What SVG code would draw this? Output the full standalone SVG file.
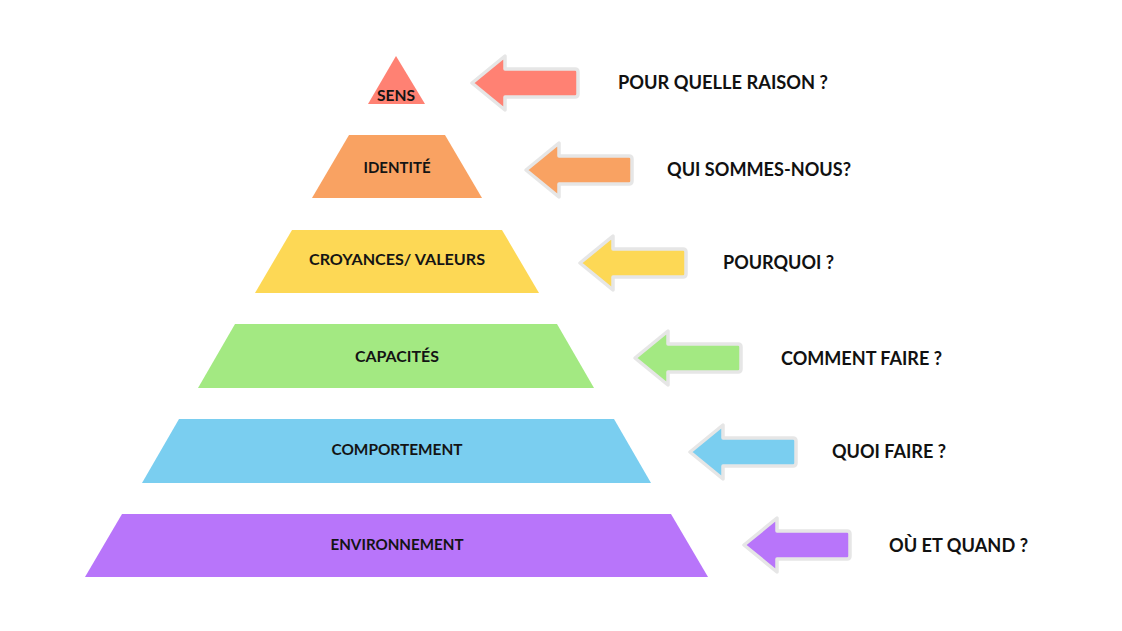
<svg xmlns="http://www.w3.org/2000/svg" width="1122" height="631" viewBox="0 0 1122 631">
<style>
.lvl{font-family:Lato,"Liberation Sans",sans-serif;font-weight:700;font-size:15px;fill:#141414;text-anchor:middle;dominant-baseline:central}
.q{font-family:Lato,"Liberation Sans",sans-serif;font-weight:700;font-size:18px;fill:#111;dominant-baseline:central}
.arr{stroke:#e6e6e6;stroke-width:3.5;stroke-linejoin:round}
</style>
<defs>
<path id="arrow" d="M0,0 L33,-27 L33,-14 L103,-14 Q106,-14 106,-11 L106,11 Q106,14 103,14 L33,14 L33,27 Z"/>
</defs>
<rect width="1122" height="631" fill="#ffffff"/>
<g id="sens">
<polygon points="396,56 425,104 368,104" fill="#ff8173"/>
<text class="lvl" x="396" y="95" textLength="38" lengthAdjust="spacingAndGlyphs">SENS</text>
</g>
<g id="identite">
<polygon points="349,135 445,135 482,198 312,198" fill="#f9a262"/>
<text class="lvl" x="397" y="167" textLength="67" lengthAdjust="spacingAndGlyphs">IDENTITÉ</text>
</g>
<g id="croyances">
<polygon points="292,230 502,230 539,293 255,293" fill="#fdd855"/>
<text class="lvl" x="397" y="259" textLength="176" lengthAdjust="spacingAndGlyphs">CROYANCES/ VALEURS</text>
</g>
<g id="capacites">
<polygon points="235,324 557,324 594,388 198,388" fill="#a3e982"/>
<text class="lvl" x="397" y="356" textLength="84" lengthAdjust="spacingAndGlyphs">CAPACITÉS</text>
</g>
<g id="comportement">
<polygon points="179,419 614,419 651,483 142,483" fill="#7acef0"/>
<text class="lvl" x="397" y="449" textLength="131" lengthAdjust="spacingAndGlyphs">COMPORTEMENT</text>
</g>
<g id="environnement">
<polygon points="122,514 671,514 708,577 85,577" fill="#b875fa"/>
<text class="lvl" x="397" y="544" textLength="133" lengthAdjust="spacingAndGlyphs">ENVIRONNEMENT</text>
</g>
<g id="connectors">
<use href="#arrow" class="arr" fill="#ff8173" transform="translate(472,83)"/>
<use href="#arrow" class="arr" fill="#f9a262" transform="translate(526,170)"/>
<use href="#arrow" class="arr" fill="#fdd855" transform="translate(580,263)"/>
<use href="#arrow" class="arr" fill="#a3e982" transform="translate(635,358)"/>
<use href="#arrow" class="arr" fill="#7acef0" transform="translate(690,452)"/>
<use href="#arrow" class="arr" fill="#b875fa" transform="translate(744,545)"/>
</g>
<g id="questions">
<text class="q" x="618" y="82" textLength="210" lengthAdjust="spacingAndGlyphs">POUR QUELLE RAISON ?</text>
<text class="q" x="667" y="169" textLength="184" lengthAdjust="spacingAndGlyphs">QUI SOMMES-NOUS?</text>
<text class="q" x="723" y="262" textLength="111" lengthAdjust="spacingAndGlyphs">POURQUOI ?</text>
<text class="q" x="781" y="358" textLength="161" lengthAdjust="spacingAndGlyphs">COMMENT FAIRE ?</text>
<text class="q" x="832" y="451" textLength="114" lengthAdjust="spacingAndGlyphs">QUOI FAIRE ?</text>
<text class="q" x="889" y="545" textLength="139" lengthAdjust="spacingAndGlyphs">OÙ ET QUAND ?</text>
</g>
</svg>
